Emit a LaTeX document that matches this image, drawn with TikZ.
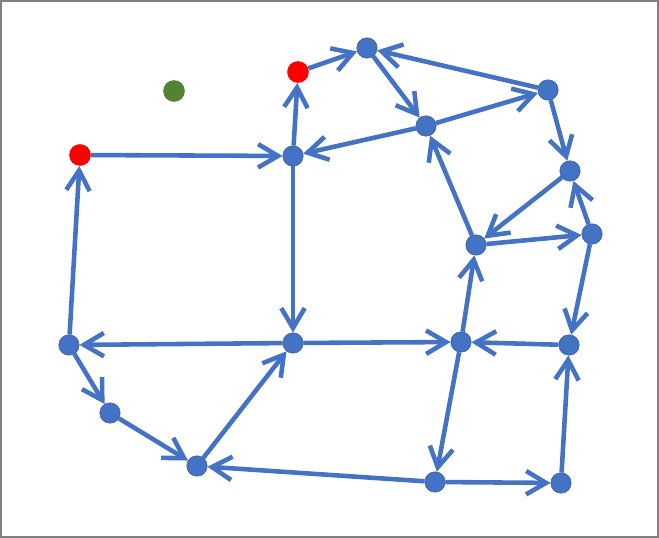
\documentclass[tikz,border=0pt]{standalone}
\usetikzlibrary{arrows.meta}
\definecolor{blu}{HTML}{4472C4}
\definecolor{blubordo}{HTML}{2F528F}
\definecolor{verde}{HTML}{548235}
\definecolor{cornice}{HTML}{808080}
\tikzset{
    dot/.style={circle,fill=blu,draw=blubordo,line width=0.4pt,inner sep=0pt,minimum size=17.5pt},
    rosso/.style={circle,fill=red,inner sep=0pt,minimum width=17pt,minimum height=18.5pt},
    solo/.style={circle,fill=verde,inner sep=0pt,minimum width=17pt,minimum height=18.5pt},
    edge/.style={->,>={Straight Barb[length=17pt,width=20pt]},draw=blu,line width=3.9pt}
}
\begin{document}
\begin{tikzpicture}[x=0.03cm,y=-0.03cm]
        \useasboundingbox (0,0) rectangle (659,538);
        \draw[cornice,line width=1.5pt] (1,1) rectangle (658,537);

        %%%%%%%%%% Nodes %%%%%%%%%%
        \foreach \n/\x/\y in {a/293/156,b/367/48,c/426/126,d/548/90,e/570/171,
                f/476/245,g/592/234,h/69/345,i/293/343,j/461/342,k/569/345,
                l/110/413,m/197/466,n/435/482,o/561/483}
            \node[dot] (\n) at (\x,\y) {};

        \node[rosso] (s1) at (80,155) {};
        \node[rosso] (s2) at (298,72) {};
        \node[solo] (iso) at (174,91) {};

        %%%%%%%%% Arrows %%%%%%%%%
        \foreach \p/\q in {s1/a,h/s1,a/s2,s2/b,d/b,b/c,c/d,c/a,d/e,e/f,f/c,
                f/g,g/e,g/k,j/f,k/j,i/j,a/i,i/h,h/l,l/m,m/i,n/m,j/n,n/o,o/k}
            \draw[edge] (\p) -- (\q);
    \end{tikzpicture}
\end{document}
